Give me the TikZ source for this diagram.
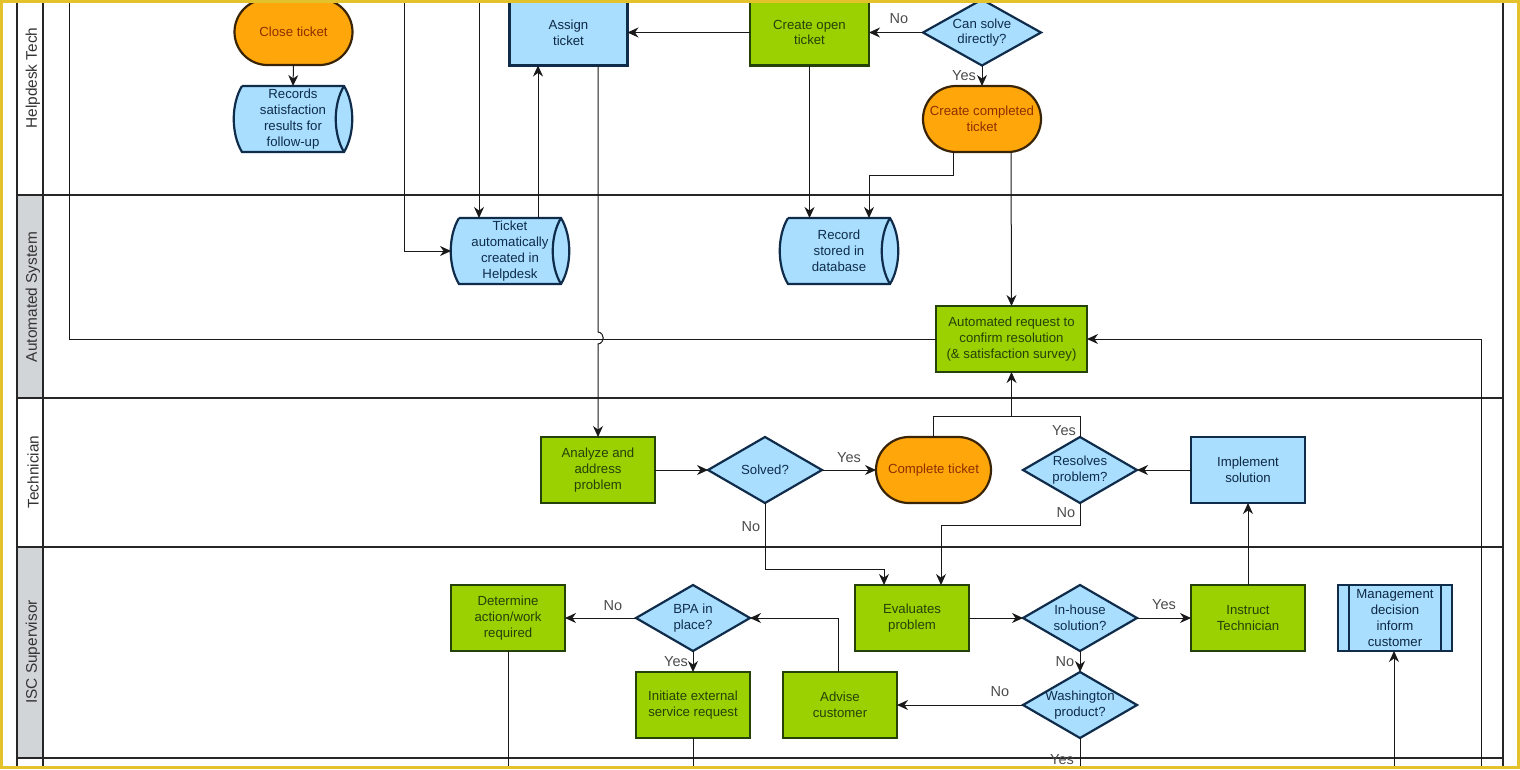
\documentclass[tikz,border=0pt]{standalone}
\usepackage{fontspec}
\setmainfont{Liberation Sans}
\usetikzlibrary{arrows.meta, shapes.geometric, shapes.misc}
\definecolor{skyfill}{HTML}{A9DEFF}
\definecolor{skyline}{HTML}{0F2C4A}
\definecolor{limefill}{HTML}{9BD100}
\definecolor{limeline}{HTML}{24420A}
\definecolor{orangefill}{HTML}{FFA60A}
\definecolor{orangeline}{HTML}{3A2408}
\definecolor{orangetext}{HTML}{8C2F00}
\definecolor{headgray}{HTML}{D2D5D8}
\definecolor{framegold}{HTML}{E3C22C}
\tikzset{
	boxtext/.style={font=\fontsize{13.2}{15.8}\selectfont, align=center, inner sep=0pt, outer sep=0pt},
	bluebox/.style={boxtext, rectangle, draw=skyline, line width=2.2pt, fill=skyfill, text=skyline!90!black, minimum width=118pt, minimum height=66pt},
	greenbox/.style={boxtext, rectangle, draw=limeline, line width=2.2pt, fill=limefill, text=limeline, minimum width=114pt, minimum height=66pt},
	decide/.style={boxtext, diamond, draw=skyline, line width=2.2pt, fill=skyfill, text=skyline, shape aspect=1.7, inner sep=-24pt, minimum width=114pt, minimum height=66pt},
	terminal/.style={boxtext, rounded rectangle, draw=orangeline, line width=2.2pt, fill=orangefill, text=orangetext, minimum width=118pt, minimum height=66pt},
	storedtext/.style={boxtext, text=skyline, minimum width=118pt, minimum height=66pt},
	lanehead/.style={rotate=90, font=\fontsize{15.4}{17}\selectfont, text=black!80, inner sep=0pt},
	branch/.style={font=\fontsize{14.5}{16}\selectfont, text=black!70, inner sep=0pt},
	flow/.style={line width=1pt, black!90},
	flowto/.style={flow, -{Stealth[length=11pt, width=10pt]}},
	lane/.style={line width=2.6pt, black!85}
}
\newcommand{\storednode}[4]{
	\draw[draw=skyline, line width=2.2pt, fill=skyfill, shift={(#2,#3)}]
		(-51,-33) -- (51,-33) .. controls (62,-15) and (62,15) .. (51,33)
		-- (-51,33) .. controls (-62,15) and (-62,-15) .. (-51,-33);
	\draw[draw=skyline, line width=2.2pt, shift={(#2,#3)}]
		(51,-33) .. controls (40,-15) and (40,15) .. (51,33);
	\node[storedtext] (#1) at (#2,#3) {#4};
}
\begin{document}
\begin{tikzpicture}[x=1pt, y=-1pt]
	\useasboundingbox (0,0) rectangle (1520,769);
	\fill[white] (0,0) rectangle (1520,769);
	% lane heads
	\fill[headgray] (17,195) rectangle (43,398);
	\fill[headgray] (17,547) rectangle (43,758);
	\node[lanehead] (headhelp) at (33,78) {Helpdesk Tech};
	\node[lanehead] (headauto) at (33,297) {Automated System};
	\node[lanehead] (headtech) at (33,472) {Technician};
	\node[lanehead] (headisc) at (33,652) {ISC Supervisor};
	\draw[lane] (17,0) -- (17,769);
	\draw[lane] (43,0) -- (43,769);
	\draw[lane] (1503,0) -- (1503,769);
	\draw[lane] (17,195) -- (1503,195);
	\draw[lane] (17,398) -- (1503,398);
	\draw[lane] (17,547) -- (1503,547);
	\draw[lane] (17,758) -- (1503,758);

	% helpdesk tech
	\node[terminal] (closeticket) at (293.5,32) {Close ticket};
	\storednode{records}{293}{119}{Records\\satisfaction\\results for\\follow-up}
	\node[bluebox] (assign) at (568.5,32.5) {Assign\\ticket};
	\node[greenbox, minimum width=119pt] (openticket) at (809.5,32.5) {Create open\\ticket};
	\node[decide, minimum width=118pt] (cansolve) at (982,32.5) {Can solve\\directly?};
	\node[terminal] (completed) at (982,119) {Create completed\\ticket};

	% automated system
	\storednode{autoticket}{510}{251}{Ticket\\automatically\\created in\\Helpdesk}
	\storednode{stored}{839}{251}{Record\\stored in\\database}
	\node[greenbox, minimum width=151pt] (confirm) at (1011.5,339) {Automated request to\\confirm resolution\\(\& satisfaction survey)};

	% technician
	\node[greenbox] (analyze) at (598,470) {Analyze and\\address\\problem};
	\node[decide] (solved) at (765,470) {Solved?};
	\node[terminal, minimum width=115pt] (complete) at (933.5,470) {Complete ticket};
	\node[decide] (resolves) at (1080,470) {Resolves\\problem?};
	\node[bluebox, minimum width=114pt] (implement) at (1248,470) {Implement\\solution};

	% isc supervisor
	\node[greenbox] (determine) at (508,618) {Determine\\action/work\\required};
	\node[decide] (bpa) at (693,618) {BPA in\\place?};
	\node[greenbox] (evaluates) at (912,618) {Evaluates\\problem};
	\node[decide] (inhouse) at (1080,618) {In-house\\solution?};
	\node[greenbox] (instruct) at (1248,618) {Instruct\\Technician};
	\node[bluebox, minimum width=114pt] (management) at (1395,618) {Management\\decision\\inform\\customer};
	\draw[draw=skyline, line width=2.2pt] ([xshift=11pt]management.north west) -- ([xshift=11pt]management.south west);
	\draw[draw=skyline, line width=2.2pt] ([xshift=-11pt]management.north east) -- ([xshift=-11pt]management.south east);
	\node[greenbox] (initiate) at (693,705) {Initiate external\\service request};
	\node[greenbox] (advise) at (840,705) {Advise\\customer};
	\node[decide] (washington) at (1080,705) {Washington\\product?};

	% free ends
	\coordinate (topone) at (404,0);
	\coordinate (toptwo) at (479,0);
	\coordinate (topthree) at (69,0);
	\coordinate (rightend) at (1481,769);
	\coordinate (jumpa) at (598,332);
	\coordinate (jumpb) at (598,344);
	\coordinate (botone) at (508,769);
	\coordinate (bottwo) at (693,769);
	\coordinate (botthree) at (1080,769);
	\coordinate (botfour) at (1394,769);

	% connectors
	\draw[flowto] (closeticket.south) -- (records.north);
	\draw[flowto] (topone) |- (autoticket.west);
	\draw[flowto] (toptwo) -- (toptwo |- autoticket.north);
	\draw[flowto] ([xshift=28pt]autoticket.north) -- ([xshift=28pt]autoticket.north |- assign.south);
	\draw[flowto] (openticket.west) -- (assign.east);
	\draw[flowto] (cansolve.west) -- (openticket.east);
	\draw[flowto] (cansolve.south) -- (completed.north);
	\draw[flowto] (openticket.south) -- (openticket.south |- stored.north);
	\draw[flowto] ([xshift=-29pt]completed.south) |- (869,175) -- (869,218);
	\draw[flowto] ([xshift=29pt]completed.south) -- (confirm.north);
	\draw[flow] (confirm.west) -- (topthree |- confirm.west) -- (topthree);
	\draw[flowto] (rightend) |- (confirm.east);
	\draw[flowto] (analyze.north |- assign.south) -- (jumpa) .. controls (605,333) and (605,343) .. (jumpb) -- (analyze.north);
	\draw[flowto] (analyze.east) -- (solved.west);
	\draw[flowto] (solved.east) -- (complete.west);
	\draw[flow] (complete.north) |- (1011.5,416);
	\draw[flow] (resolves.north) |- (1011.5,416);
	\draw[flowto] (1011.5,416) -- (confirm.south);
	\draw[flowto] (implement.west) -- (resolves.east);
	\draw[flowto] (resolves.south) |- (941,525) -- (941,585);
	\draw[flowto] (solved.south) |- (884,569) -- (884,585);
	\draw[flowto] (evaluates.east) -- (inhouse.west);
	\draw[flowto] (inhouse.east) -- (instruct.west);
	\draw[flowto] (instruct.north) -- (implement.south);
	\draw[flowto] (inhouse.south) -- (washington.north);
	\draw[flowto] (washington.west) -- (advise.east);
	\draw[flowto] ([xshift=-2pt]advise.north) |- (bpa.east);
	\draw[flowto] (bpa.west) -- (determine.east);
	\draw[flowto] (bpa.south) -- (initiate.north);
	\draw[flow] (determine.south) -- (botone);
	\draw[flow] (initiate.south) -- (bottwo);
	\draw[flow] (washington.south) -- (botthree);
	\draw[flowto] (botfour) -- (botfour |- management.south);

	% branch labels
	\node[branch] (nosolve) at (899,19) {No};
	\node[branch] (yessolve) at (964,76) {Yes};
	\node[branch] (yessolved) at (849,458) {Yes};
	\node[branch] (nosolved) at (751,527) {No};
	\node[branch] (yesresolves) at (1064,431) {Yes};
	\node[branch] (noresolves) at (1066,513) {No};
	\node[branch] (yeshouse) at (1164,605) {Yes};
	\node[branch] (nohouse) at (1065,662) {No};
	\node[branch] (nowash) at (1000,692) {No};
	\node[branch] (yeswash) at (1062,760) {Yes};
	\node[branch] (nobpa) at (613,606) {No};
	\node[branch] (yesbpa) at (676,662) {Yes};

	% outer frame
	\draw[framegold, line width=3pt] (1.5,1.5) rectangle (1518.5,767.5);
\end{tikzpicture}
\end{document}
